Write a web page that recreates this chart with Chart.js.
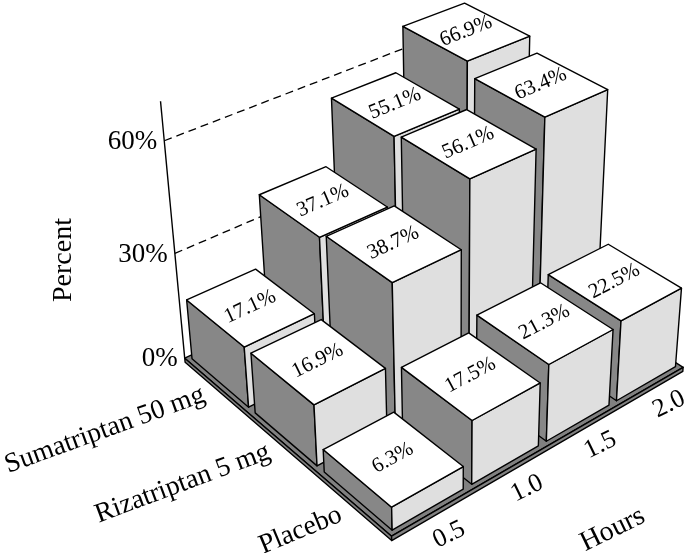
<!DOCTYPE html>
<html><head><meta charset="utf-8">
<script src="https://cdn.jsdelivr.net/npm/chart.js@4.4.1/dist/chart.umd.min.js"></script>
<style>html,body{margin:0;padding:0;background:#fff;}#wrap{width:685px;height:553px;}</style>
</head><body><div id="wrap"><canvas id="c" width="685" height="553"></canvas></div>
<script>
const hours = ['0.5','1.0','1.5','2.0'];
const groups = ['Sumatriptan 50 mg','Rizatriptan 5 mg','Placebo'];
const sumatriptan = [17.1,37.1,55.1,66.9];
const rizatriptan = [16.9,38.7,56.1,63.4];
const placebo = [6.3,17.5,21.3,22.5];
const percentTicks = [0,30,60];

// camera (perspective) matrix and bar gaps – layout parameters
const CAM = [0.832759,0.522075,-0.106705,1.84732,
             -0.261946,0.364117,-0.757768,3.58197,
             0.0288934,-0.0427535,-0.0233977];
const GX = 0.055, GY = 0.05;

function proj(X,Y,Z){const M=CAM,z=Z/20;const w=M[8]*X+M[9]*Y+M[10]*z+1;
 return [100*(M[0]*X+M[1]*Y+M[2]*z+M[3])/w,100*(M[4]*X+M[5]*Y+M[6]*z+M[7])/w];}

const series=[sumatriptan,rizatriptan,placebo];
const FONT='"Liberation Serif", "Times New Roman", serif';
const DARK='#878787', LIGHT='#dfdfdf', TOP='#ffffff', FLOOR='#808080';
const DEG=Math.PI/180;

function poly(ctx,P,fill){ctx.beginPath();ctx.moveTo(P[0][0],P[0][1]);for(let k=1;k<P.length;k++)ctx.lineTo(P[k][0],P[k][1]);ctx.closePath();
 ctx.fillStyle=fill;ctx.fill();ctx.stroke();}
function angX(X,Y,Z){const a=proj(X-0.3,Y,Z),b=proj(X+0.3,Y,Z);return Math.atan2(b[1]-a[1],b[0]-a[0]);}
function txt(ctx,s,p,ang,size,align){ctx.save();ctx.translate(p[0],p[1]);ctx.rotate(ang);ctx.font=size+'px '+FONT;ctx.fillStyle='#000';
 ctx.textAlign=align||'center';ctx.textBaseline='middle';ctx.fillText(s,0,0);ctx.restore();}

const seriesAngles=[-20,-20.5,-22.5];

const box3d={id:'box3d',afterDraw(chart){
 const ctx=chart.ctx, xs=chart.scales.x, ys=chart.scales.y, ds=chart.scales.depth;
 const nH=hours.length, nS=groups.length;
 const Xc=i=>xs.getDecimalForPixel(xs.getPixelForValue(i))*nH;
 const Yc=j=>ds.getDecimalForPixel(ds.getPixelForValue(j))*nS;
 const Zv=v=>(ys.bottom-ys.getPixelForValue(v))/(ys.bottom-ys.top)*(ys.max-ys.min)+ys.min;
 ctx.save();ctx.lineJoin='round';ctx.strokeStyle='#000';
 // dashed reference lines on the back wall
 ctx.lineWidth=1.3;ctx.setLineDash([8,5]);
 for(const t of ys.ticks){if(t.value===0)continue;const z=Zv(t.value);const a=proj(0,0,z),b=proj(nH,0,z);
  ctx.beginPath();ctx.moveTo(a[0],a[1]);ctx.lineTo(b[0],b[1]);ctx.stroke();}
 ctx.setLineDash([]);
 // vertical axis
 const a0=proj(0,0,Zv(ys.min)),a1=proj(0,0,Zv(ys.max));ctx.lineWidth=1.4;
 ctx.beginPath();ctx.moveTo(a0[0],a0[1]);ctx.lineTo(a1[0],a1[1]);ctx.stroke();
 // floor slab
 const t=-1.2;
 poly(ctx,[proj(0,0,0),proj(nH,0,0),proj(nH,nS,0),proj(0,nS,0)],FLOOR);
 poly(ctx,[proj(0,0,t),proj(0,nS,t),proj(0,nS,0),proj(0,0,0)],FLOOR);
 poly(ctx,[proj(0,nS,t),proj(nH,nS,t),proj(nH,nS,0),proj(0,nS,0)],FLOOR);
 // boxes, back to front
 ctx.lineWidth=1.4;
 for(let j=0;j<nS;j++)for(let i=nH-1;i>=0;i--){
  const v=series[j][i], h=Zv(v);const xc=Xc(i), yc=Yc(j);
  const x0=xc-0.5+GX,x1=xc+0.5-GX,y0=yc-0.5+GY,y1=yc+0.5-GY;
  poly(ctx,[proj(x0,y0,0),proj(x0,y1,0),proj(x0,y1,h),proj(x0,y0,h)],DARK);
  poly(ctx,[proj(x0,y1,0),proj(x1,y1,0),proj(x1,y1,h),proj(x0,y1,h)],LIGHT);
  poly(ctx,[proj(x0,y0,h),proj(x1,y0,h),proj(x1,y1,h),proj(x0,y1,h)],TOP);
  txt(ctx,v.toFixed(1)+'%',proj(xc,yc,h),angX(xc,yc,h),21);
 }
 // tick labels
 for(const tk of ys.ticks){const p=proj(0,0,Zv(tk.value));txt(ctx,tk.value+'%',[p[0]-7,p[1]+1],0,27,'right');}
 // series labels
 for(let j=0;j<nS;j++){const p=proj(-0.15,Yc(j),-1.1);txt(ctx,groups[j],p,seriesAngles[j]*DEG,27.5,'right');}
 // hour labels
 for(let i=0;i<nH;i++){const p=proj(Xc(i)-0.07,nS+0.28,0);txt(ctx,hours[i],p,-26*DEG,26,'center');}
 txt(ctx,'Hours',proj(1.66,nS+1.07,0),-26*DEG,28,'center');
 txt(ctx,'Percent',[64,260],-Math.PI/2,28,'center');
 ctx.restore();
}};

new Chart(document.getElementById('c'),{
 type:'bar',
 data:{labels:hours,datasets:groups.map((g,k)=>({label:g,data:series[k],backgroundColor:'rgba(0,0,0,0)',borderWidth:0}))},
 options:{responsive:false,animation:false,events:[],layout:{padding:0},
  plugins:{legend:{display:false},tooltip:{enabled:false}},
  scales:{x:{display:false,offset:true},
   y:{display:false,min:0,max:70,bounds:'data',afterBuildTicks:s=>{s.ticks=percentTicks.map(v=>({value:v}));}},
   depth:{type:'category',labels:groups,offset:true,axis:'x',display:false}}},
 plugins:[box3d]});
</script></body></html>
